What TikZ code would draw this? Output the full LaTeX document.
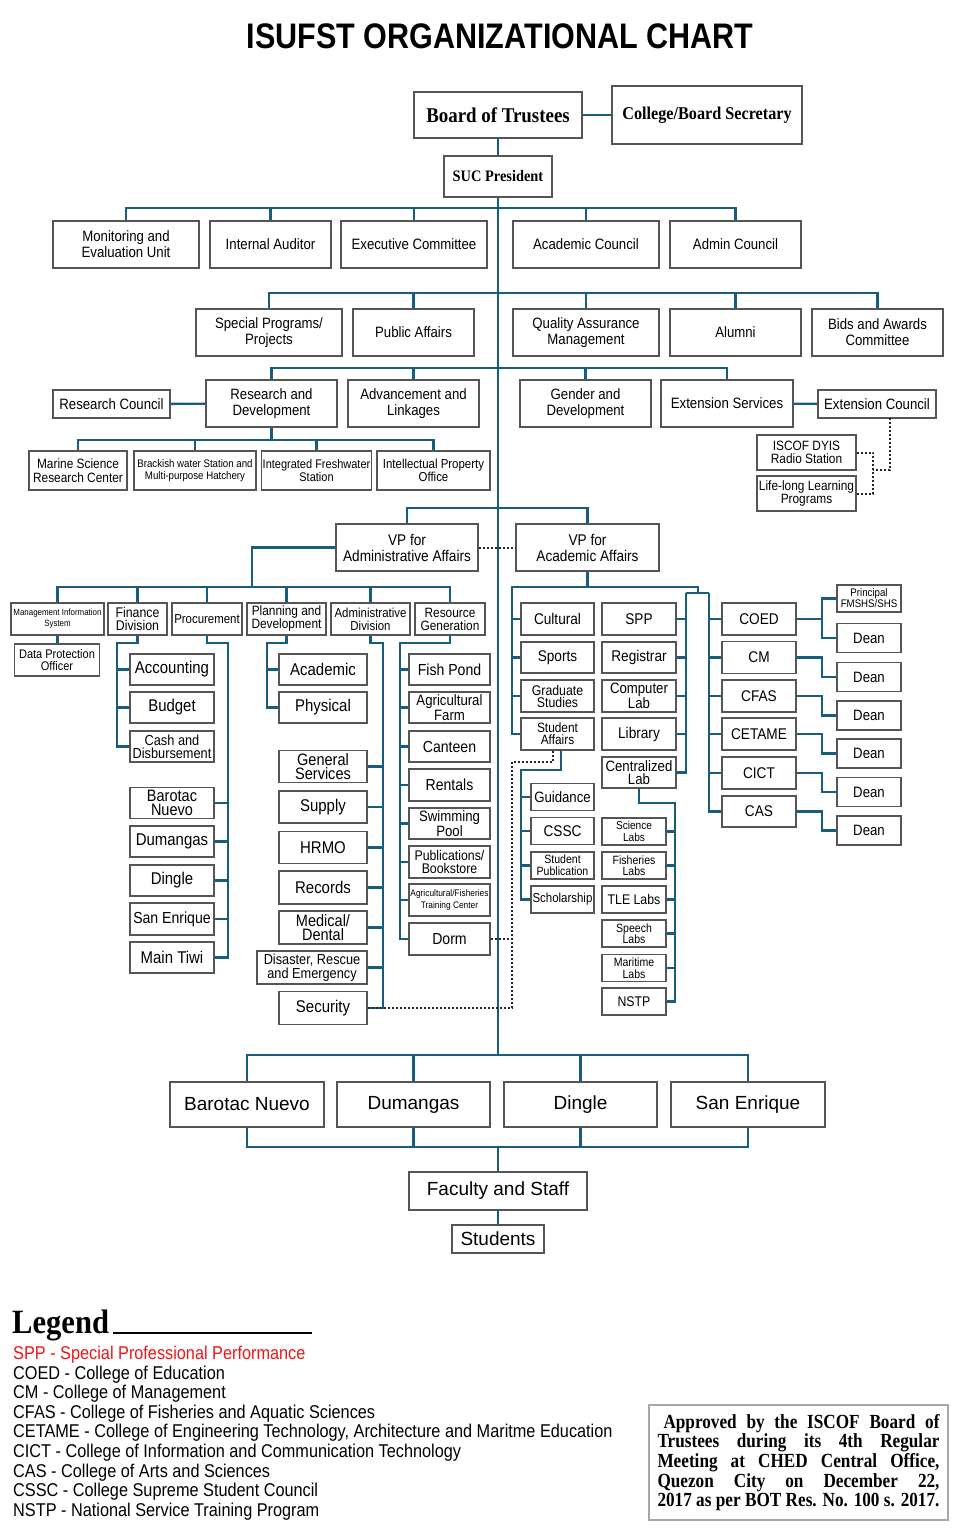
\documentclass[tikz,border=0pt]{standalone}
\usepackage{fontspec}
\setmainfont{Liberation Sans}[FakeStretch=0.88]
\newfontfamily\headfont{Liberation Sans}[FakeStretch=0.86]
\newfontfamily\plainsans{Liberation Sans}
\newfontfamily\boardfont{Liberation Serif}[FakeStretch=0.9]
\newfontfamily\notefont{Liberation Serif}[FakeStretch=0.86]
\usepackage{xcolor}
\definecolor{linkblue}{RGB}{24,94,124}
\definecolor{boxgray}{RGB}{85,85,85}
\definecolor{sppred}{RGB}{240,20,20}
\newcommand{\fsz}[2]{\fontsize{#1}{#2}\selectfont}

\begin{document}
\begin{tikzpicture}[x=1pt, y=-1pt,
  box/.style={draw=boxgray, line width=1.3pt, fill=white, inner sep=1pt, align=center, font=\fsz{15}{16}},
  sz/.style 2 args={minimum width=#1, minimum height=#2},
  conn/.style={draw=linkblue, line width=2.4pt},
  dots/.style={draw=black!85, line width=2pt, dash pattern=on 2pt off 2pt}]

\useasboundingbox (0,0) rectangle (956,1536);

\node[font=\headfont\bfseries\fsz{35.5}{35.5}] (title) at (500,36) {ISUFST ORGANIZATIONAL CHART};

% board and president
\node[box, sz={168}{46}, font=\boardfont\bfseries\fsz{21}{21}] (bot) at (498,115) {Board of Trustees};
\node[box, sz={190}{58}, font=\boardfont\bfseries\fsz{18}{18}] (sec) at (707,115) {College/Board Secretary};
\node[box, sz={108}{41}, font=\boardfont\bfseries\fsz{16}{16}] (pres) at (498,176.5) {SUC President};

% offices under the president
\node[box, sz={146}{47}] (meu) at (126,244.5) {Monitoring and\\Evaluation Unit};
\node[box, sz={121}{47}] (ia) at (270.5,244.5) {Internal Auditor};
\node[box, sz={146}{47}] (ec) at (414,244.5) {Executive Committee};
\node[box, sz={146}{47}] (ac) at (586,244.5) {Academic Council};
\node[box, sz={131}{47}] (adc) at (735.5,244.5) {Admin Council};

\node[box, sz={146}{47}] (spp) at (269,332.5) {Special Programs/\\Projects};
\node[box, sz={121}{47}] (pa) at (413.5,332.5) {Public Affairs};
\node[box, sz={146}{47}] (qam) at (586,332.5) {Quality Assurance\\Management};
\node[box, sz={131}{47}] (alu) at (735.5,332.5) {Alumni};
\node[box, sz={131}{47}] (bac) at (877.5,332.5) {Bids and Awards\\Committee};

\node[box, sz={131}{47}] (rd) at (271.5,403.5) {Research and\\Development};
\node[box, sz={131}{47}] (al) at (413.5,403.5) {Advancement and\\Linkages};
\node[box, sz={131}{47}] (gad) at (585.5,403.5) {Gender and\\Development};
\node[box, sz={132}{47}] (es) at (727,403.5) {Extension Services};
\node[box, sz={117}{28}] (rc) at (111.5,404) {Research Council};
\node[box, sz={118}{28}] (ecn) at (877,404) {Extension Council};
\node[box, sz={99}{35}, font=\fsz{13.5}{13}] (radio) at (806.5,452.5) {ISCOF DYIS\\Radio Station};
\node[box, sz={99}{35}, font=\fsz{13.5}{13}] (lll) at (806.5,493.5) {Life-long Learning\\Programs};

\node[box, sz={98}{39}, font=\fsz{13.5}{13.5}] (msrc) at (78,470.5) {Marine Science\\Research Center};
\node[box, sz={122}{39}, font=\fsz{11}{12}] (bws) at (195,470.5) {Brackish water Station and\\Multi-purpose Hatchery};
\node[box, sz={109}{39}, font=\fsz{12.5}{13.5}] (ifs) at (316.5,470.5) {Integrated Freshwater\\Station};
\node[box, sz={113}{39}, font=\fsz{13}{13.5}] (ipo) at (433.5,470.5) {Intellectual Property\\Office};

% vice presidents
\node[box, sz={142}{47}, font=\fsz{15.5}{16}] (vpaa) at (407,547.5) {VP for\\Administrative Affairs};
\node[box, sz={143}{47}, font=\fsz{15.5}{16}] (vpac) at (587.5,547.5) {VP for\\Academic Affairs};

% administrative side
\node[box, sz={93}{32}, font=\fsz{9}{11}] (mis) at (57.5,619) {Management Information\\System};
\node[box, sz={59}{32}, font=\fsz{14}{13}] (fin) at (137.5,619) {Finance\\Division};
\node[box, sz={70}{32}, font=\fsz{13}{13}] (proc) at (207,619) {Procurement};
\node[box, sz={79}{32}, font=\fsz{13.5}{13}] (pld) at (286.5,619) {Planning and\\Development};
\node[box, sz={79}{32}, font=\fsz{13}{13}] (add) at (370.5,619) {Administrative\\Division};
\node[box, sz={70}{32}, font=\fsz{13.5}{13}] (rg) at (450,619) {Resource\\Generation};
\node[box, sz={85}{32}, font=\fsz{12.5}{12}] (dpo) at (57,660) {Data Protection\\Officer};

\node[box, sz={84}{31}, font=\fsz{17}{17}] (acc) at (172,669.5) {Accounting};
\node[box, sz={84}{31}, font=\fsz{17}{17}] (bud) at (172,707.5) {Budget};
\node[box, sz={84}{31}, font=\fsz{14.5}{13}] (cash) at (172,746.5) {Cash and\\Disbursement};

\node[box, sz={84}{31}, font=\fsz{16.5}{13.5}] (bn2) at (172,803) {Barotac\\Nuevo};
\node[box, sz={84}{31}, font=\fsz{17}{17}] (dum2) at (172,841.5) {Dumangas};
\node[box, sz={84}{31}, font=\fsz{17}{17}] (din2) at (172,880.5) {Dingle};
\node[box, sz={84}{32}, font=\fsz{16}{17}] (se2) at (172,919) {San Enrique};
\node[box, sz={84}{31}, font=\fsz{17}{17}] (mt) at (172,957.5) {Main Tiwi};

\node[box, sz={88}{31}, font=\fsz{17}{17}] (aca) at (323,669.5) {Academic};
\node[box, sz={88}{31}, font=\fsz{17}{17}] (phy) at (323,707.5) {Physical};

\node[box, sz={88}{32}, font=\fsz{16.5}{13.5}] (gs) at (323,766.5) {General\\Services};
\node[box, sz={88}{32}, font=\fsz{17}{17}] (sup) at (323,807) {Supply};
\node[box, sz={88}{32}, font=\fsz{17}{17}] (hrmo) at (323,847.5) {HRMO};
\node[box, sz={88}{33}, font=\fsz{17}{17}] (rec) at (323,887.5) {Records};
\node[box, sz={88}{33}, font=\fsz{16.5}{13.5}] (med) at (323,927.5) {Medical/\\Dental};
\node[box, sz={110}{33}, font=\fsz{14.5}{13.5}] (dre) at (312,967.5) {Disaster, Rescue\\and Emergency};
\node[box, sz={88}{33}, font=\fsz{17}{17}] (secu) at (323,1008) {Security};

\node[box, sz={81}{31}, font=\fsz{16}{16}] (fp) at (449.5,669.5) {Fish Pond};
\node[box, sz={81}{31}, font=\fsz{15}{13}] (af) at (449.5,707.5) {Agricultural\\Farm};
\node[box, sz={81}{31}, font=\fsz{16}{16}] (can) at (449.5,746.5) {Canteen};
\node[box, sz={81}{32}, font=\fsz{16}{16}] (ren) at (449.5,785) {Rentals};
\node[box, sz={81}{31}, font=\fsz{15}{13}] (sp) at (449.5,823.5) {Swimming\\Pool};
\node[box, sz={81}{32}, font=\fsz{14}{13.5}] (pub) at (449.5,862) {Publications/\\Bookstore};
\node[box, sz={81}{32}, font=\fsz{9.5}{11.5}] (aft) at (449.5,900) {Agricultural/Fisheries\\Training Center};
\node[box, sz={81}{32}, font=\fsz{16}{16}] (dorm) at (449.5,939) {Dorm};

% academic side
\node[box, sz={73}{32}, font=\fsz{15.5}{15.5}] (cul) at (557.5,619) {Cultural};
\node[box, sz={73}{31}, font=\fsz{15.5}{15.5}] (spo) at (557.5,657.5) {Sports};
\node[box, sz={73}{32}, font=\fsz{14}{12}] (gst) at (557.5,696) {Graduate\\Studies};
\node[box, sz={73}{32}, font=\fsz{13.5}{12}] (sa) at (557.5,734) {Student\\Affairs};

\node[box, sz={74}{32}, font=\fsz{15.5}{15.5}] (sppb) at (639,619) {SPP};
\node[box, sz={74}{31}, font=\fsz{15.5}{15.5}] (reg) at (639,657.5) {Registrar};
\node[box, sz={74}{32}, font=\fsz{15}{12.5}] (cl) at (639,696) {Computer\\Lab};
\node[box, sz={74}{32}, font=\fsz{15.5}{15.5}] (lib) at (639,734) {Library};
\node[box, sz={74}{31}, font=\fsz{15}{12.5}] (cen) at (639,772.5) {Centralized\\Lab};

\node[box, sz={63}{27}, font=\fsz{15}{15}] (gui) at (562.5,797) {Guidance};
\node[box, sz={63}{27}, font=\fsz{15.5}{15.5}] (cssc) at (562.5,831) {CSSC};
\node[box, sz={63}{27}, font=\fsz{12}{12}] (stp) at (562.5,865.5) {Student\\Publication};
\node[box, sz={63}{27}, font=\fsz{13}{13}] (sch) at (562.5,899.5) {Scholarship};

\node[box, sz={64}{27}, font=\fsz{11.5}{11.5}] (sci) at (634,831.5) {Science\\Labs};
\node[box, sz={64}{27}, font=\fsz{12}{11.5}] (fis) at (634,865.5) {Fisheries\\Labs};
\node[box, sz={64}{27}, font=\fsz{14}{14}] (tle) at (634,899.5) {TLE Labs};
\node[box, sz={64}{27}, font=\fsz{12}{11.5}] (spe) at (634,933.5) {Speech\\Labs};
\node[box, sz={64}{27}, font=\fsz{12}{11.5}] (mar) at (634,968) {Maritime\\Labs};
\node[box, sz={64}{27}, font=\fsz{14}{14}] (nstp) at (634,1001.5) {NSTP};

\node[box, sz={74}{32}, font=\fsz{15.5}{15.5}] (coed) at (759,619) {COED};
\node[box, sz={74}{32}, font=\fsz{15.5}{15.5}] (cm) at (759,657.5) {CM};
\node[box, sz={74}{32}, font=\fsz{15.5}{15.5}] (cfas) at (759,696) {CFAS};
\node[box, sz={74}{32}, font=\fsz{15.5}{15.5}] (cetame) at (759,734) {CETAME};
\node[box, sz={74}{32}, font=\fsz{15.5}{15.5}] (cict) at (759,773) {CICT};
\node[box, sz={74}{31}, font=\fsz{15.5}{15.5}] (cas) at (759,811.5) {CAS};

\node[box, sz={64}{27}, font=\fsz{11}{11}] (prin) at (869,598.5) {Principal\\FMSHS/SHS};
\node[box, sz={64}{29}] (dean1) at (869,638) {Dean};
\node[box, sz={64}{29}] (dean2) at (869,677) {Dean};
\node[box, sz={64}{29}] (dean3) at (869,715.5) {Dean};
\node[box, sz={64}{29}] (dean4) at (869,753.5) {Dean};
\node[box, sz={64}{29}] (dean5) at (869,792) {Dean};
\node[box, sz={64}{29}] (dean6) at (869,830.5) {Dean};

% campuses, faculty, students
\node[box, sz={154}{45}, font=\plainsans\fsz{19}{19}] (bn) at (247,1104.5) {Barotac Nuevo};
\node[box, sz={153}{45}, font=\plainsans\fsz{19}{19}] (dum) at (413.5,1104.5) {Dumangas};
\node[box, sz={153}{45}, font=\plainsans\fsz{19}{19}] (din) at (580.5,1104.5) {Dingle};
\node[box, sz={154}{45}, font=\plainsans\fsz{19}{19}] (se) at (748,1104.5) {San Enrique};
\node[box, sz={178}{38}, font=\plainsans\fsz{19}{19}] (fs) at (498,1191) {Faculty and Staff};
\node[box, sz={92}{28}, font=\plainsans\fsz{19}{19}] (stu) at (498,1239) {Students};

% junction points
\coordinate (r1) at (498,208);
\coordinate (r2) at (498,293);
\coordinate (r3) at (498,368);
\coordinate (r4) at (271.5,440);
\coordinate (vpTop) at (498,508);
\coordinate (adL) at (252,587);
\coordinate (finK) at (117,643);
\coordinate (procK) at (228,643);
\coordinate (pldK) at (267,643);
\coordinate (addK) at (383,643);
\coordinate (rgK) at (400,643);
\coordinate (acL) at (512,587);
\coordinate (acR) at (698,587);
\coordinate (acS) at (686,593);
\coordinate (acC) at (709,593);
\coordinate (saT) at (561,750);
\coordinate (saK) at (521,770);
\coordinate (cenK) at (675,803);
\coordinate (coK) at (822,619);
\coordinate (hubB) at (498,1055);
\coordinate (hubC) at (498,1147);
\coordinate (exTop) at (890,418);
\coordinate (exBend) at (890,470);
\coordinate (exJoin) at (873,470);
\coordinate (dotA) at (512,762);
\coordinate (dotB) at (553,762);
\coordinate (dotC) at (553,750);

% solid links
\draw[conn] (bot) -- (pres);
\draw[conn] (bot) -- (sec);
\draw[conn] (pres.south) -- (hubB);
\draw[conn] (meu.north) |- (r1) -| (adc.north);
\foreach \n in {ia,ec,ac} \draw[conn] (\n.north) -- (\n.north |- r1);
\draw[conn] (spp.north) |- (r2) -| (bac.north);
\foreach \n in {pa,qam,alu} \draw[conn] (\n.north) -- (\n.north |- r2);
\draw[conn] (rd.north) |- (r3) -| (es.north);
\foreach \n in {al,gad} \draw[conn] (\n.north) -- (\n.north |- r3);
\draw[conn] (rc) -- (rd);
\draw[conn] (es) -- (ecn);
\draw[conn] (rd.south) -- (r4);
\draw[conn] (msrc.north) |- (r4) -| (ipo.north);
\foreach \n in {bws,ifs} \draw[conn] (\n.north) -- (\n.north |- r4);

\draw[conn] (vpaa.north) |- (vpTop) -| (vpac.north);
\draw[conn] (vpaa.west) -| (adL);
\draw[conn] (mis.north) |- (adL) -| (rg.north);
\foreach \n in {fin,proc,pld,add} \draw[conn] (\n.north) -- (\n.north |- adL);
\draw[conn] (mis.south) -- (mis.south |- dpo.north);

\draw[conn] (fin.south) |- (finK) |- (cash.west);
\foreach \n in {acc,bud} \draw[conn] (\n.west) -- (\n.west -| finK);
\draw[conn] (proc.south) |- (procK) |- (mt.east);
\foreach \n in {bn2,dum2,din2,se2} \draw[conn] (\n.east) -- (\n.east -| procK);
\draw[conn] (pld.south) |- (pldK) |- (phy.west);
\draw[conn] (aca.west) -- (aca.west -| pldK);
\draw[conn] (add.south) |- (addK) |- (secu.east);
\foreach \n in {gs,sup,hrmo,rec,med,dre} \draw[conn] (\n.east) -- (\n.east -| addK);
\draw[conn] (rg.south) |- (rgK) |- (dorm.west);
\foreach \n in {fp,af,can,ren,sp,pub,aft} \draw[conn] (\n.west) -- (\n.west -| rgK);

\draw[conn] (vpac.south) -- (vpac.south |- acL);
\draw[conn] (sa.west) -| (acL) -- (acR) -- (acR |- acS);
\draw[conn] (acS) -- (acC);
\draw[conn] (acS) |- (cen.east);
\draw[conn] (acC) |- (cas.west);
\foreach \n in {cul,spo,gst} \draw[conn] (\n.west) -- (\n.west -| acL);
\foreach \n in {sppb,reg,cl,lib} \draw[conn] (\n.east) -- (\n.east -| acS);
\foreach \n in {coed,cm,cfas,cetame,cict} \draw[conn] (\n.west) -- (\n.west -| acC);
\draw[conn] (saT) |- (saK) |- (sch.west);
\foreach \n in {gui,cssc,stp} \draw[conn] (\n.west) -- (\n.west -| saK);
\draw[conn] (cen.south) |- (cenK) |- (nstp.east);
\foreach \n in {sci,fis,tle,spe,mar} \draw[conn] (\n.east) -- (\n.east -| cenK);
\draw[conn] (coed.east) -- (coK);
\draw[conn] (prin.west) -| (coK) |- (dean1.west);
\foreach \c/\d in {cm/dean2,cfas/dean3,cetame/dean4,cict/dean5,cas/dean6}
  \draw[conn] (\c.east) -- (\c.east -| coK) |- (\d.west);

\draw[conn] (bn.north) |- (hubB) -| (se.north);
\foreach \n in {dum,din} \draw[conn] (\n.north) -- (\n.north |- hubB);
\draw[conn] (bn.south) |- (hubC) -| (se.south);
\foreach \n in {dum,din} \draw[conn] (\n.south) -- (\n.south |- hubC);
\draw[conn] (hubC) -- (fs.north);
\draw[conn] (fs) -- (stu);

% dotted links
\draw[dots] (vpaa.east) -- (vpac.west);
\draw[dots] (exTop) -- (exBend) -- (exJoin);
\draw[dots] (radio.east) -| (exJoin);
\draw[dots] (lll.east) -| (exJoin);
\draw[dots] (secu.east) -| (dotA) -- (dotB) -- (dotC);
\draw[dots] (dorm.east) -- (dorm.east -| dotA);

% legend
\node[anchor=base west, inner sep=0pt, font=\boardfont\bfseries\fsz{34}{34}] (leg) at (12,1333) {Legend};
\coordinate (legEnd) at (312,1333);
\draw[line width=2pt] ([xshift=4pt]leg.base east) -- (legEnd);
\node[anchor=base west, inner sep=0pt, text=sppred, font=\fsz{18.5}{19}] (l0) at (13,1359.5) {SPP - Special Professional Performance};
\foreach \t [count=\i] in {COED - College of Education, CM - College of Management,
  CFAS - College of Fisheries and Aquatic Sciences,
  {CETAME - College of Engineering Technology, Architecture and Maritme Education},
  CICT - College of Information and Communication Technology,
  CAS - College of Arts and Sciences, CSSC - College Supreme Student Council,
  NSTP - National Service Training Program}
  \node[anchor=base west, inner sep=0pt, font=\fsz{18.5}{19}] (l\i) at (13,1359.5+19.6*\i) {\t};

\node[draw=black!35, line width=2pt, sz={299}{115}, text width=282, inner sep=0pt, align=justify,
  font=\notefont\bfseries\fsz{20}{19.7}] (appr) at (798.5,1462.5)
  {\tolerance=9999\emergencystretch=20pt\parfillskip=0pt\hspace*{6pt}Approved by the ISCOF Board of\linebreak
   Trustees during its 4th Regular\linebreak
   Meeting at CHED Central Office,\linebreak
   Quezon City on December 22,\linebreak
   2017 as per BOT Res. No. 100 s. 2017.\par};

\end{tikzpicture}
\end{document}
